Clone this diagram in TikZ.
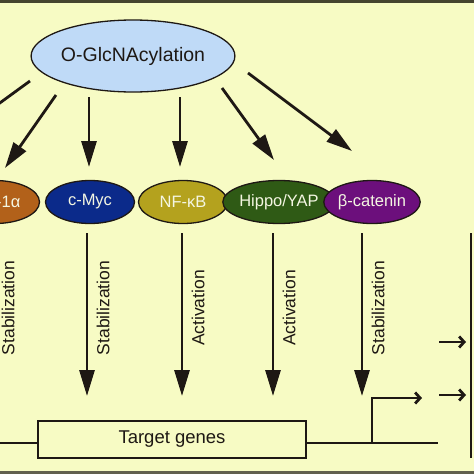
\documentclass[tikz,border=0pt]{standalone}
\usepackage{fontspec}
\setmainfont{Liberation Sans}
\usetikzlibrary{arrows.meta,shapes.geometric}
\definecolor{bgc}{HTML}{F7FBC4}
\definecolor{bord}{HTML}{45442F}
\definecolor{glc}{HTML}{BFDAF7}
\definecolor{hifc}{HTML}{B2611A}
\definecolor{mycc}{HTML}{0B2A8A}
\definecolor{nfkc}{HTML}{B4A21E}
\definecolor{hipc}{HTML}{2F5A15}
\definecolor{bcac}{HTML}{6C0F7C}
\definecolor{ink}{HTML}{1E1814}
\definecolor{ltxt}{HTML}{F4F6E2}
\tikzset{
  ell/.style={ellipse, draw=ink, line width=1.3pt, inner sep=0pt},
  prot/.style={ell, minimum width=89pt, minimum height=43pt, text=ltxt, font=\fontsize{16.5}{18}\selectfont},
  arr/.style={draw=ink, line width=2.8pt, -{Triangle[length=26pt,width=15pt]}},
  barb/.style={draw=ink, line width=2.8pt, -{Straight Barb[length=5pt,width=11pt]}},
  vlab/.style={rotate=90, font=\fontsize{17.5}{20}\selectfont, text=ink, inner sep=0pt},
  plainline/.style={draw=ink, line width=2.8pt}
}
\begin{document}
\begin{tikzpicture}[x=1pt,y=-1pt]
\fill[bgc] (0,0) rectangle (474,474);
\useasboundingbox (0,0) rectangle (474,474);
\clip (0,0) rectangle (474,474);
\fill[bord] (0,0) rectangle (474,3);
\fill[bord!85] (0,471) rectangle (474,474);

% top node
\node[ell, fill=glc, minimum width=172pt, minimum height=72pt, text=ink, font=\fontsize{19.5}{22}\selectfont] (ogl) at (133,56) {O-GlcNAcylation};

% protein row
\node[prot, fill=hifc] (hif) at (-5,202) {HIF-1α};
\node[prot, fill=mycc] (myc) at (90,202) {c-Myc};
\node[prot, fill=nfkc] (nfk) at (183,202) {NF-κB};
\node[prot, fill=hipc] (hip) at (279,202) {Hippo/YAP};
\node[prot, fill=bcac] (bca) at (372,202) {β-catenin};

% arrows from O-GlcNAcylation
\coordinate (s0) at (30,81);   \coordinate (e0) at (-40,132);
\coordinate (s1) at (56,95);   \coordinate (e1) at (5,168);
\coordinate (s2) at (89,97);   \coordinate (e2) at (89,167);
\coordinate (s3) at (180,97);  \coordinate (e3) at (180,167);
\coordinate (s4) at (222,88);  \coordinate (e4) at (274,160);
\coordinate (s5) at (248,73);  \coordinate (e5) at (352,151);
\draw[arr] (s0) -- (e0);
\draw[arr] (s1) -- (e1);
\draw[arr] (s2) -- (e2);
\draw[arr] (s3) -- (e3);
\draw[arr] (s4) -- (e4);
\draw[arr] (s5) -- (e5);

% target genes
\node[draw=ink, line width=1.3pt, minimum width=268pt, minimum height=37pt, inner sep=0pt, font=\fontsize{18.5}{21}\selectfont, text=ink] (tg) at (172,439.5) {Target genes};
\coordinate (dl) at (0,443);
\coordinate (dr) at (438,443);
\coordinate (pr) at (372,443);
\coordinate (pt) at (372,398);
\coordinate (pe) at (422,398);
\draw[plainline] (dl) -- (tg.west |- dl);
\draw[plainline] (tg.east |- dr) -- (dr);
\draw[barb] (pr) -- (pt) -- (pe);

% vertical arrows and labels
\foreach \x/\n/\t in {-8/v0/Stabilization, 87/v1/Stabilization, 182/v2/Activation, 273/v3/Activation, 362/v4/Stabilization}{
  \coordinate (\n s) at (\x,233);
  \coordinate (\n e) at (\x,396);
  \draw[arr] (\n s) -- (\n e);
  \node[vlab] (\n l) at (\x+16,308) {\t};
}

% right side
\coordinate (r1s) at (439,342); \coordinate (r1e) at (466,342);
\coordinate (r2s) at (439,395); \coordinate (r2e) at (466,395);
\draw[barb] (r1s) -- (r1e);
\draw[barb] (r2s) -- (r2e);
\coordinate (rt) at (471,233); \coordinate (rb) at (471,458);
\draw[draw=ink, line width=2pt] (rt) -- (rb);
\end{tikzpicture}
\end{document}
